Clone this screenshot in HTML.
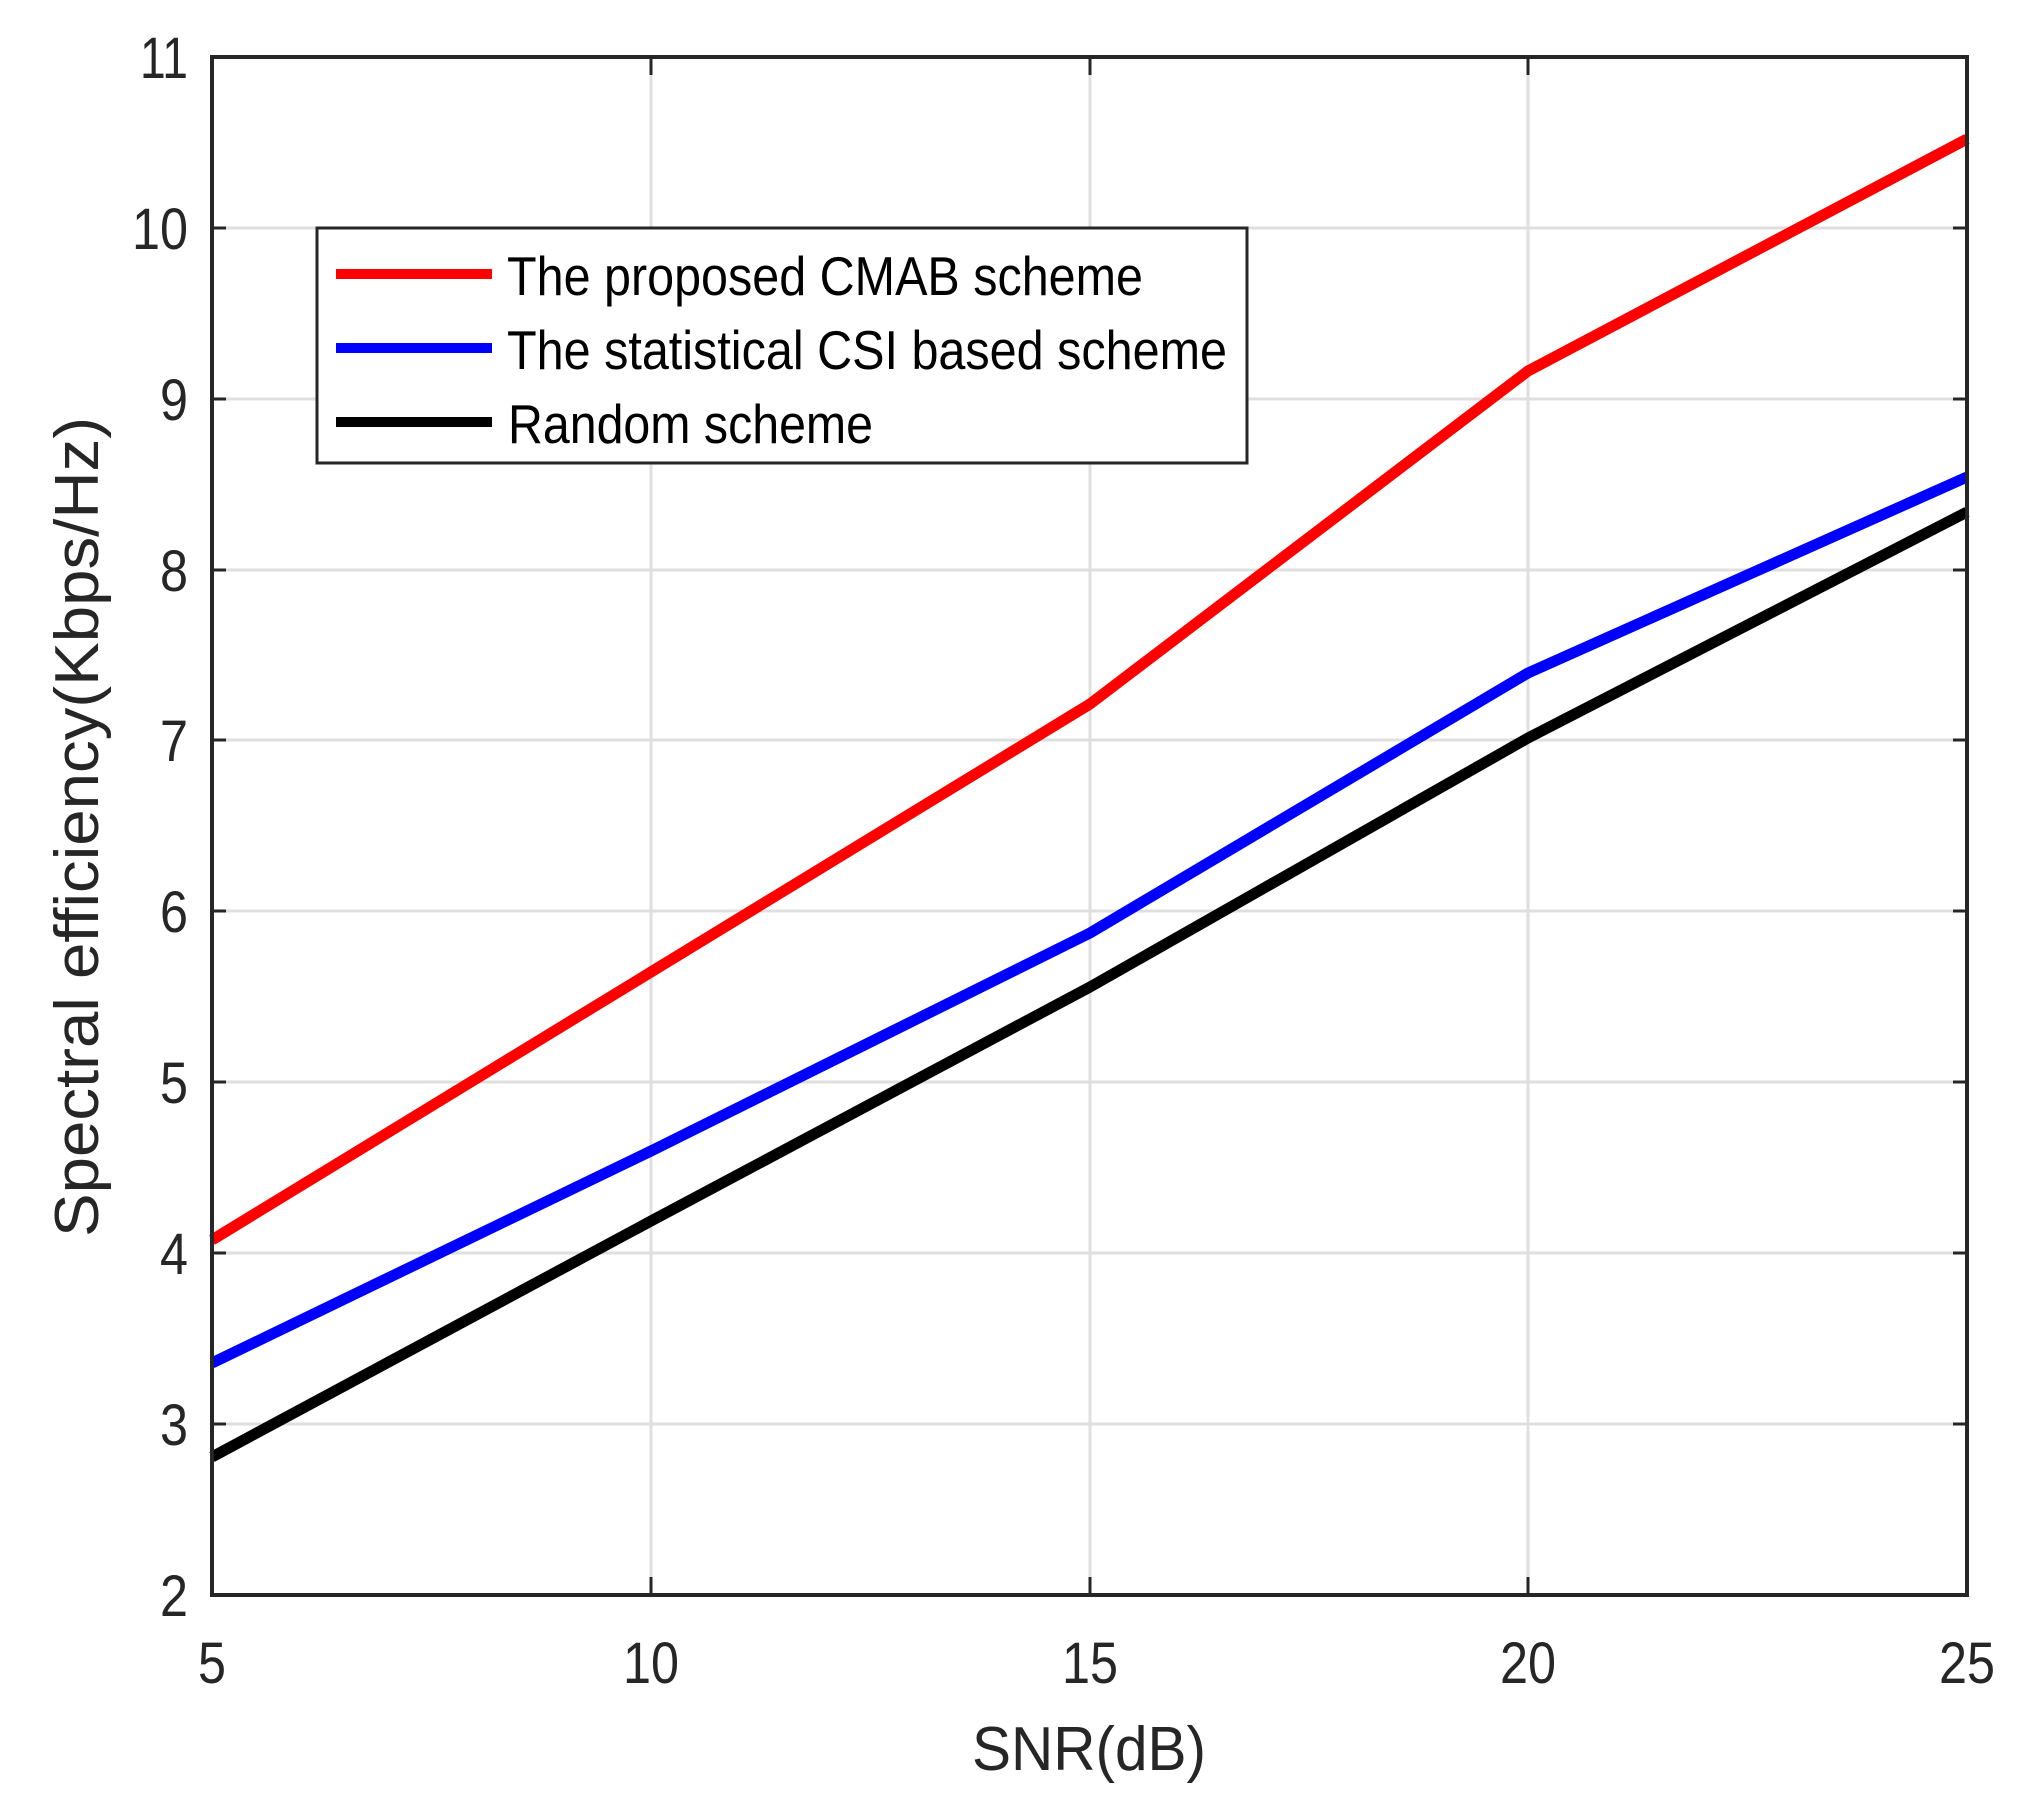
<!DOCTYPE html>
<html><head><meta charset="utf-8"><style>body{margin:0;background:#fff}svg{display:block}</style></head>
<body>
<svg width="2024" height="1818" viewBox="0 0 2024 1818" xmlns="http://www.w3.org/2000/svg" font-family="Liberation Sans, sans-serif" fill="#262626">
<g stroke="#dfdfdf" stroke-width="3">
<line x1="651" y1="57" x2="651" y2="1595"/><line x1="1090" y1="57" x2="1090" y2="1595"/><line x1="1528" y1="57" x2="1528" y2="1595"/>
<line x1="212" y1="1424" x2="1967" y2="1424"/><line x1="212" y1="1253" x2="1967" y2="1253"/><line x1="212" y1="1082" x2="1967" y2="1082"/><line x1="212" y1="911" x2="1967" y2="911"/><line x1="212" y1="740" x2="1967" y2="740"/><line x1="212" y1="570" x2="1967" y2="570"/><line x1="212" y1="399" x2="1967" y2="399"/><line x1="212" y1="228" x2="1967" y2="228"/>
</g>
<g stroke="#262626" stroke-width="3">
<path d="M651 57v18M1090 57v18M1528 57v18M651 1595v-18M1090 1595v-18M1528 1595v-18"/>
<path d="M212 1424h14M212 1253h14M212 1082h14M212 911h14M212 740h14M212 570h14M212 399h14M212 228h14M1967 1424h-14M1967 1253h-14M1967 1082h-14M1967 911h-14M1967 740h-14M1967 570h-14M1967 399h-14M1967 228h-14"/>
</g>
<g fill="none" stroke-width="11" stroke-linejoin="round">
<polyline stroke="#ff0000" points="212,1240 651,972 1090,704 1528,371 1967,139"/>
<polyline stroke="#0000ff" points="212,1363 651,1151 1090,933 1528,673 1967,477"/>
<polyline stroke="#000000" points="212,1457 651,1221 1090,987 1528,738 1967,512"/>
</g>
<rect x="212" y="57" width="1755" height="1538" fill="none" stroke="#262626" stroke-width="4"/>
<rect x="317" y="228" width="930" height="235" fill="#fff" stroke="#262626" stroke-width="3"/>
<g stroke-width="10"><line x1="336" y1="274" x2="492" y2="274" stroke="#ff0000"/><line x1="336" y1="348" x2="492" y2="348" stroke="#0000ff"/><line x1="336" y1="422" x2="492" y2="422" stroke="#000"/></g>
<g font-size="55" fill="#000">
<text x="507" y="295" textLength="636" lengthAdjust="spacingAndGlyphs">The proposed CMAB scheme</text>
<text x="507" y="369" textLength="720" lengthAdjust="spacingAndGlyphs">The statistical CSI based scheme</text>
<text x="508" y="443" textLength="365" lengthAdjust="spacingAndGlyphs">Random scheme</text>
</g>
<g font-size="58" text-anchor="end">
<text x="188" y="1616" textLength="28" lengthAdjust="spacingAndGlyphs">2</text><text x="188" y="1445" textLength="28" lengthAdjust="spacingAndGlyphs">3</text><text x="188" y="1274" textLength="28" lengthAdjust="spacingAndGlyphs">4</text><text x="188" y="1103" textLength="28" lengthAdjust="spacingAndGlyphs">5</text><text x="188" y="932" textLength="28" lengthAdjust="spacingAndGlyphs">6</text><text x="188" y="761" textLength="28" lengthAdjust="spacingAndGlyphs">7</text><text x="188" y="591" textLength="28" lengthAdjust="spacingAndGlyphs">8</text><text x="188" y="420" textLength="28" lengthAdjust="spacingAndGlyphs">9</text><text x="188" y="249" textLength="56" lengthAdjust="spacingAndGlyphs">10</text><text x="188" y="78" textLength="48" lengthAdjust="spacingAndGlyphs">11</text>
</g>
<g font-size="58" text-anchor="middle">
<text x="212" y="1683" textLength="28" lengthAdjust="spacingAndGlyphs">5</text><text x="651" y="1683" textLength="56" lengthAdjust="spacingAndGlyphs">10</text><text x="1090" y="1683" textLength="56" lengthAdjust="spacingAndGlyphs">15</text><text x="1528" y="1683" textLength="56" lengthAdjust="spacingAndGlyphs">20</text><text x="1967" y="1683" textLength="56" lengthAdjust="spacingAndGlyphs">25</text>
</g>
<text x="1089" y="1770" font-size="62" text-anchor="middle" textLength="234" lengthAdjust="spacingAndGlyphs">SNR(dB)</text>
<text transform="translate(98,827) rotate(-90)" font-size="62" text-anchor="middle" textLength="820" lengthAdjust="spacingAndGlyphs">Spectral efficiency(Kbps/Hz)</text>
</svg>
</body></html>
